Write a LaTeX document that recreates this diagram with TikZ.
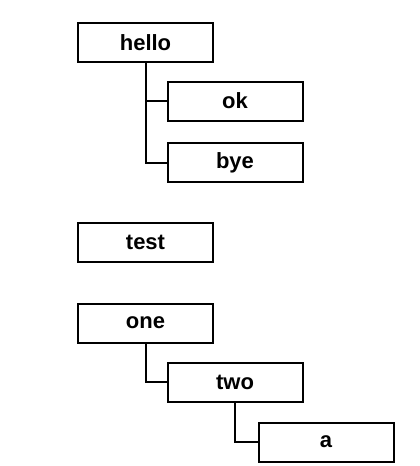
\documentclass[tikz,border=0pt]{standalone}
\usepackage{fontspec}
\setmainfont{Liberation Sans}
\usetikzlibrary{positioning}

\begin{document}
\begin{tikzpicture}[
    x=0.5pt, y=-0.5pt,
    line/.style={line width=1pt, draw=black},
    itembox/.style={rectangle, draw=black, line width=1pt, fill=white,
        minimum width=67.5pt, minimum height=19.5pt, inner sep=0pt,
        font=\fontsize{11}{13}\selectfont\bfseries}
]

% === Frame ===
\useasboundingbox (0, 0) rectangle (419, 466);

% === Layout constants ===
\def\rootx{145.5}
\def\childx{235}
\def\grandx{326}

% === First tree ===
\node[itembox] (hello) at (\rootx, 42.5) {hello};
\node[itembox] (ok) at (\childx, 101) {ok};
\node[itembox] (bye) at (\childx, 162.5) {bye};

% === Single item ===
\node[itembox] (test) at (\rootx, 242.5) {test};

% === Second tree ===
\node[itembox] (one) at (\rootx, 323) {one};
\node[itembox] (two) at (\childx, 382) {two};
\node[itembox] (a) at (\grandx, 442) {a};

% === Connectors ===
\draw[line] (hello.south) |- (ok.west);
\draw[line] (hello.south) |- (bye.west);
\draw[line] (one.south) |- (two.west);
\draw[line] (two.south) |- (a.west);

\end{tikzpicture}
\end{document}
